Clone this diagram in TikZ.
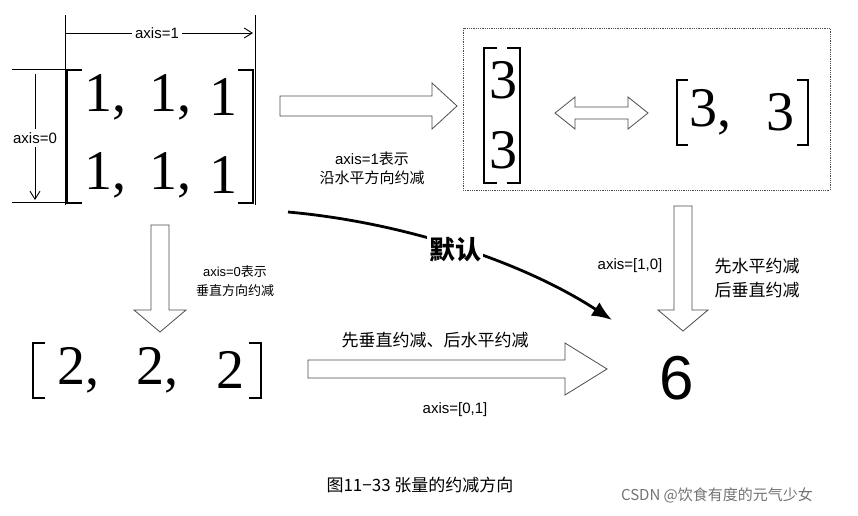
\documentclass[tikz,border=0pt]{standalone}
\usepackage{fontspec}
\setmainfont{Liberation Sans}
\newfontfamily\cjk{Noto Sans CJK SC}
\newfontfamily\serifnum{Liberation Serif}
\usetikzlibrary{arrows.meta}
\begin{document}
\begin{tikzpicture}[x=1pt,y=-1pt,
  lbl/.style={font=\fontsize{15}{19}\selectfont,align=center},
  num/.style={font=\serifnum\fontsize{56}{56}\selectfont,inner sep=0pt},
  hollow/.style={draw=black!70,fill=white,line width=0.8pt},
  dim/.style={line width=0.9pt,-{Straight Barb[length=8pt,width=10pt]}}]
\useasboundingbox[fill=white] (0,0) rectangle (858,515);
% top dimension
\draw[line width=0.9pt] (65,15) -- (65,205) (255,15) -- (255,205);
\coordinate (t1) at (65,33); \coordinate (t2) at (253,33);
\draw[dim] (t1) -- (t2);
\node[lbl,fill=white,inner sep=3pt] (ax1) at (157,33) {axis=1};
% left dimension
\draw[line width=0.9pt] (12,69) -- (65,69) (12,202) -- (65,202);
\coordinate (l1) at (35,74); \coordinate (l2) at (35,200);
\draw[dim] (l1) -- (l2);
\node[lbl,fill=white,inner sep=3pt] (ax0) at (35,138) {axis=0};
% matrix
\draw[line width=2.2pt] (82,70) -- (67,70) -- (67,203) -- (82,203);
\draw[line width=2.2pt] (238,70) -- (253,70) -- (253,203) -- (238,203);
\foreach \x/\t [count=\i] in {105/{1,},170/{1,},223/1}{
  \node[num] (a\i) at (\x,97) {\t};
  \node[num] (b\i) at (\x,175) {\t};}
% right hollow arrow
\draw[hollow] (280,96) -- (432,96) -- (432,83) -- (457,106) -- (432,129) -- (432,116) -- (280,116) -- cycle;
\node[lbl] (r1) at (372,168) {axis=1{\cjk 表示}\\{\cjk 沿水平方向约减}};
% dotted box
\draw[densely dotted,line width=0.8pt,black!70] (463,28) rectangle (830,190);
\draw[line width=2.2pt] (497,48) -- (484,48) -- (484,183) -- (497,183);
\draw[line width=2.2pt] (507,48) -- (520,48) -- (520,183) -- (507,183);
\node[num] (c1) at (503,80) {3};
\node[num] (c2) at (503,150) {3};
\draw[hollow] (555,113) -- (575,97) -- (575,107) -- (628,107) -- (628,97) -- (648,113) -- (628,129) -- (628,119) -- (575,119) -- (575,129) -- cycle;
\draw[line width=2.2pt] (688,80) -- (677,80) -- (677,145) -- (688,145);
\draw[line width=2.2pt] (797,80) -- (808,80) -- (808,145) -- (797,145);
\node[num] (d1) at (710,112) {3,};
\node[num] (d2) at (780,112) {3};
% down arrow right
\draw[hollow] (674,206) -- (692,206) -- (692,310) -- (708,310) -- (683,331) -- (658,310) -- (674,310) -- cycle;
\node[lbl] (r2) at (630,266) {axis=[1,0]};
\node[lbl,font=\cjk\fontsize{17}{24}\selectfont] (r3) at (757,278) {先水平约减\\后垂直约减};
% down arrow left
\draw[hollow] (151,225) -- (169,225) -- (169,310) -- (186,310) -- (160,332) -- (134,310) -- (151,310) -- cycle;
\node[lbl,font=\fontsize{13}{19}\selectfont] (l3) at (235,281) {axis=0{\cjk 表示}\\{\cjk 垂直方向约减}};
% [2,2,2]
\draw[line width=2.2pt] (45,343) -- (33,343) -- (33,398) -- (45,398);
\draw[line width=2.2pt] (249,343) -- (261,343) -- (261,398) -- (249,398);
\node[num] (e1) at (78,370) {2,};
\node[num] (e2) at (157,370) {2,};
\node[num] (e3) at (230,370) {2};
% bottom right arrow
\draw[hollow] (308,360) -- (565,360) -- (565,343) -- (607,369) -- (565,395) -- (565,378) -- (308,378) -- cycle;
\node[lbl,font=\cjk\fontsize{17}{20}\selectfont] (b1) at (435,340) {先垂直约减、后水平约减};
\node[lbl] (b2) at (455,410) {axis=[0,1]};
\node[font=\fontsize{62}{62}\selectfont] (six) at (677,378) {6};
% default curved arrow
\coordinate (cs) at (288,212);
\coordinate (ce) at (612,320);
\draw[line width=2.8pt,-{Latex[length=20pt,width=16pt]}] (cs) .. controls (400,222) and (520,260) .. (ce);
\node[font=\cjk\bfseries\fontsize{26}{26}\selectfont,fill=white,inner sep=2pt] (mr) at (455,250) {默认};
% caption
\node[font=\cjk\fontsize{17}{20}\selectfont] (cap) at (420,485) {图11−33 张量的约减方向};
\node[font=\cjk\fontsize{15}{18}\selectfont,text=black!55] (wm) at (717,495) {CSDN @饮食有度的元气少女};
\end{tikzpicture}
\end{document}
